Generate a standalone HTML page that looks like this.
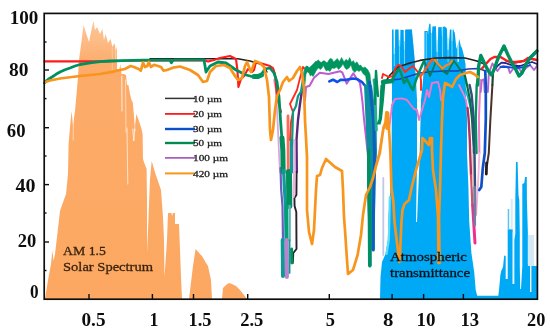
<!DOCTYPE html>
<html>
<head>
<meta charset="utf-8">
<title>Spectrum</title>
<style>
html,body{margin:0;padding:0;background:#fff;}
body{width:550px;height:336px;overflow:hidden;}
svg{display:block;}
.ax{font-family:"Liberation Serif",serif;font-weight:bold;font-size:19px;fill:#111;}
.lg{font-family:"Liberation Serif",serif;font-size:9.2px;fill:#222;}
.nt{font-family:"Liberation Serif",serif;font-size:13.5px;}
.ln{fill:none;stroke-linejoin:round;stroke-linecap:round;}
</style>
</head>
<body>
<svg width="550" height="336" viewBox="0 0 550 336">
<defs>
<filter id="b1" x="-5%" y="-5%" width="110%" height="110%"><feGaussianBlur stdDeviation="0.45"/></filter>
<filter id="b2" x="-5%" y="-5%" width="110%" height="110%"><feGaussianBlur stdDeviation="0.6"/></filter>
<linearGradient id="og" x1="0" y1="20" x2="0" y2="299" gradientUnits="userSpaceOnUse">
<stop offset="0" stop-color="#fdc597"/><stop offset="0.08" stop-color="#fdba84"/><stop offset="0.16" stop-color="#fcab68"/><stop offset="1" stop-color="#fca862"/>
</linearGradient>
</defs>
<rect x="0" y="0" width="550" height="336" fill="#fff"/>

<!-- SOLAR -->
<g id="solar" filter="url(#b1)">
<polygon fill="url(#og)" points="45,299 48,280 51,264 52.4,250.5 53.6,261 55,254 57,237 60,211 61,208 66,194 68,174 68.6,144 70,127 71.6,111 73,125 75,111 78,77 79,60 81,45 83.6,25 86,33 89,42 91,32 93.4,21 95,30 97,27 100,34 102.4,29 104,40 105.6,34 108,43 110.6,39 112.4,47 114.4,43 116,50 117,47 117,69 119.5,69 120.4,64 121.5,74 124,74 126,75 127,85 128.4,85 130,93.7 131.3,99.6 132.8,102.5 133.8,114 135,125 136.4,114 138.6,120 141.5,128.7 142.6,134 143,159 144.5,163.5 146.6,169 147,200 147,253 148,230 150,179 151.7,161 155.4,173.7 159,184 161,190 163,217 164,240 164.5,277 167,240 168,213 171.5,213 172,216 173,213 175,213 175,224 179,224 180,250 181,277 182,299"/>
<g stroke="#fff" fill="none" stroke-linecap="round">
<line x1="115.6" y1="48" x2="115.8" y2="62" stroke-width="0.7" opacity="0.6"/>
<line x1="112.3" y1="48" x2="112.3" y2="70" stroke-width="1" opacity="0.3"/>
<line x1="121.8" y1="76" x2="122" y2="111" stroke-width="1" opacity="0.8"/>
<line x1="125.5" y1="80" x2="126" y2="132" stroke-width="0.8" opacity="0.65"/>
<line x1="127" y1="128" x2="127.8" y2="184" stroke-width="0.9" opacity="0.75"/>
<polyline points="132.8,129 133.8,141 134.8,129" stroke-width="0.9" opacity="0.8"/>
<line x1="73.4" y1="113" x2="73.2" y2="140" stroke-width="0.7" opacity="0.7"/>
<line x1="134.6" y1="116" x2="134.8" y2="131" stroke-width="0.8" opacity="0.7"/>
</g>
<polygon fill="#fca862" points="189,299 193,266 195.6,249 200,254 202,256 206,263 208,266 211,280 212,299"/>
<polygon fill="#fca862" points="222,299 223,288 226,285 229,283 232,284 236,286 240,290 244,295 247,299"/>
</g>

<!-- ATMOSPHERE -->
<g id="atm" filter="url(#b1)">
<polygon fill="#06a9f5" points="380,299 380.5,277 382,262 385.5,254 387.8,240 388.5,215 390,197 391.5,160 392,90 392,29.6 393.6,29.6 393.8,54 394.9,54 395.1,29.6 398.6,29.6 398.9,46 400.1,46 400.4,29.8 403.7,30 404,50 405,50 405.2,29.6 411.8,29.6 413.3,45 414.3,56 416,80 417,100 417,160 416,222 417,222 419.5,160 421,100 423,80 424.4,60 424.4,31 427.8,31 428,35 428.4,30 429.3,23.5 430.5,24 431,33 432,33 432.4,26.6 436,26.2 436.7,52 437.7,52 438.2,27 439.7,27.3 441.7,27 442,37 442.7,37 443,26.8 444.8,26.6 447,28.7 447.6,50 448.6,50 449.9,29.5 451.4,29.5 451.7,41 452.4,41 452.7,29.5 453.5,29.5 455,34.6 456.4,49 459.3,39 460.8,46 462,48 464,56 465.5,64 466,80 465.5,90 467,119 467,153 468.4,187 469.2,221 471.4,253 474.2,272 475.7,290 477.2,295.8 478,299"/>
<polygon fill="#0393e6" opacity="0.6" points="405.4,30 411.8,29.6 413.3,45 414.3,56 415,66 405.4,66"/>
<g stroke="#7fdcf7" stroke-width="1" fill="none" opacity="0.85">
<line x1="394.3" y1="48" x2="394.3" y2="66"/><line x1="399.5" y1="40" x2="399.5" y2="64"/><line x1="404.5" y1="41" x2="404.5" y2="66"/>
<line x1="431.5" y1="33" x2="431.5" y2="60"/><line x1="437.2" y1="40" x2="437.2" y2="62"/><line x1="448.1" y1="38" x2="448.1" y2="62"/>
<line x1="442.5" y1="27" x2="442.5" y2="58"/><line x1="452" y1="30" x2="452" y2="58"/><line x1="426.3" y1="32" x2="426.3" y2="62"/>
</g>
<line x1="458" y1="40" x2="458.2" y2="62" stroke="#fff" stroke-width="1.3" opacity="0.85"/>
<g stroke="#0393e6" stroke-width="1.2" fill="none" opacity="0.55">
<line x1="397" y1="30" x2="397" y2="66"/><line x1="402" y1="30" x2="402" y2="66"/><line x1="434" y1="27" x2="434" y2="60"/><line x1="440" y1="28" x2="440" y2="60"/><line x1="445.5" y1="27" x2="445.5" y2="60"/><line x1="450.5" y1="30" x2="450.5" y2="60"/><line x1="454" y1="32" x2="454" y2="60"/>
</g>
<polygon fill="#06a9f5" points="476,295.8 498.3,295.8 499,290 500.4,275 501.2,271 503,267 504.2,255.5 505.7,256 505.7,279 507.7,279 507.7,229.3 512.7,229.3 512.7,284 514.2,284 514.2,240 515.3,234 515.3,200 516,162 517.6,162 518.5,195 519.3,200 519.8,234 519.8,266 520.2,289 521,289 522.3,266 522.3,184 524.3,183 525,177 526.8,177 526.9,200 527.9,234 527.9,264 530,264 530,292 531.4,292 531.4,266 537,266 537,299 476,299"/>
<rect x="507.7" y="209" width="1.5" height="21" fill="#5cc4f2"/>
<rect x="510.7" y="199" width="2" height="30.3" fill="#d4ecf8"/>
<polygon fill="#d3eaf6" points="527.9,235 534,235 534,266 527.9,266"/>
<rect x="512.7" y="232" width="1.5" height="52" fill="#e4f3fa"/>
</g>

<!-- LINES -->
<g id="lines" filter="url(#b1)">
<!-- black -->
<polyline class="ln" stroke="#222" stroke-width="1.4" points="150,58.8 204,58.7 238,58.8 250,61 262,64.5 265,68 267,72"/>
<polyline class="ln" stroke="#5a2a7a" stroke-width="2.4" points="296.8,172 296.5,140 298,120 300,104 302,90 304,80"/>
<polyline class="ln" stroke="#2a2030" stroke-width="1.9" points="296.6,172 296.4,195 294.4,198 294.6,206 296.3,212 296.5,249 293.3,253 292.8,263"/>
<polyline class="ln" stroke="#222" stroke-width="1.6" points="384,84 390,75 398,67 410,63 420,60.4 436,58 450,57.6 465,58 475,60.6 479,61.6 484,64 488,70"/>
<polyline class="ln" stroke="#1a4a30" stroke-width="2.2" points="492.9,74 492.4,85"/>
<polyline class="ln" stroke="#4a3028" stroke-width="2" points="492.4,85 490.4,119 488.8,153 487,165"/>
<polyline class="ln" stroke="#2a1a1a" stroke-width="2.8" stroke-linecap="butt" points="486.6,163 486.3,174"/>
<polyline class="ln" stroke="#222" stroke-width="1.5" points="506,61 514,63 520,62 528,59 533,54 537,50"/>
<!-- purple -->
<polyline class="ln" stroke="#dda6dc" stroke-width="1.8" points="274,80 276,90 278,130 279.2,157 280,172"/>
<polyline class="ln" stroke="#bd5cd0" stroke-width="2" points="305,100 306,87 309.6,85.8 314,77.8 319.8,72.7 328.5,74 340,71.2 342.4,72.7 346.7,83.6 349,80 353.3,73.4 356.2,77.8 360,83 361,90 362.5,102 364,119 367.7,153 369,172"/>
<polyline class="ln" stroke="#ea78cc" stroke-width="1.9" points="389,130 391,114 392,105 395,99 402,98.4 407,100 410,104 414,109 417,110 419,120 422,110 425,100 427,90 429,97 432,83 438,82 440,90 441,100"/>
<polyline class="ln" stroke="#f27cc6" stroke-width="2" points="480.6,80 480.3,85 478.9,119 479.4,153"/>
<polyline class="ln" stroke="#f4b4dc" stroke-width="1.8" points="479.4,153 477.9,187 476.2,215"/>
<polyline class="ln" stroke="#b36ad0" stroke-width="1.8" points="480.8,92 481.8,80.3 483.8,79.3 484.3,86 484.6,92"/>
<polyline class="ln" stroke="#b36ad0" stroke-width="2" points="487.8,92 488.8,74.2 490.4,69 492.4,63.5 494,66 497.4,71 500.5,67 503.5,66 508,67 510,73 513,69 516,65 520,70 522,73 526,68 530,65 534,70 537,66"/>
<!-- blue -->
<polyline class="ln" stroke="#0a50e8" stroke-width="2.6" points="329.3,81.4 333,79.7 337.3,82 341,79.7 345.3,80 349,79.3 353.3,78.5 357.7,79.3 362,82 366.4,87.3 368,92"/>
<polyline class="ln" stroke="#1a3fb0" stroke-width="1.6" points="384,83 392,80 400,79 420,73 430,71.7 445,71 457,71 468,69 478,68.5 483,70 485.3,71"/>
<polyline class="ln" stroke="#1050c8" stroke-width="2.7" points="485.3,71 485.8,88 485.8,119 484.8,153 482.8,168 481.3,187 479.2,190"/>
<polyline class="ln" stroke="#1a2a90" stroke-width="1.8" points="496,68 497.4,66 501.5,62.6 505.5,63 510,64.6 516,66 520,66 526,64 532,62 537,64"/>
<polyline class="ln" stroke="#0a50d8" stroke-width="1.8" points="500.5,67 506,67 512,67.5 518,68 524,67 530,65"/>
<polyline class="ln" stroke="#6a5fc0" stroke-width="2.2" points="280.5,168 281.2,190 282.5,206 283,240"/>
<!-- red -->
<polyline class="ln" stroke="#ff1a1a" stroke-width="2.1" points="44.5,61.4 105,61.4 125,60.7 204,60.2 208,61.5 214,60 220,58 230,56 236,59 237.4,70 238.4,87 241,79 244,76 248,69 252,72 254,70 256,62 260,63 270,66 273,68 275,74 277,97 281,112"/>
<polyline class="ln" stroke="#ff6a55" stroke-width="2.8" points="288,116 288.2,172"/>
<polyline class="ln" stroke="#f9a050" stroke-width="1.2" points="286.3,170 286.3,188"/>
<polyline class="ln" stroke="#ff2a1a" stroke-width="1.8" points="290,140 291,122 293,112 290,104 297,90 300,78 303,67 306,70 309,72 314,66 316,62"/>
<polyline class="ln" stroke="#ff2a1a" stroke-width="1.9" points="382,78 383,74 389,77 393,76 395,69 398,65 401,66 405,72 410,68 413,66 417,71 420,75 421,80 421,90"/>
<polyline class="ln" stroke="#ff1a1a" stroke-width="2.4" points="481.8,68.7 486.8,63 490.4,59 494.4,57 500.5,57 505.5,60 510,62 516,62 524,61 528,58 532,59 537,60"/>
<polyline class="ln" stroke="#f080d0" stroke-width="1.8" points="459,85 463,93 466,100 467.5,110"/>
<polyline class="ln" stroke="#b03060" stroke-width="2.4" points="467.5,108 468.6,119 469.8,140 470.2,153 471,175"/>
<polyline class="ln" stroke="#d05070" stroke-width="2.2" points="471,175 471.6,187 472.3,205"/>
<polyline class="ln" stroke="#f02f90" stroke-width="3" points="472.6,205 473.6,221 475,243"/>
<polyline class="ln" stroke="#f3b9a8" stroke-width="1.3" points="472.9,150 473,187"/>
<!-- green -->
<polyline class="ln" stroke="#04905e" stroke-width="2.8" points="44.5,83 46,81 48,79.5 52,77 56,74.3 60,72 65,69.8 70,68 75,66 80,64.5 90,62.8 100,61.6 110,61 122,60.6 143.7,60.2 170,60.1 171.4,62.8 173,60.3 175,59.8 204,59.8 206,72 210,66 218,62 226,63 236,70 246,75 254,77 261,75 265,69 270,68 274,73 277,82 279,97 280.5,120 282,140"/>
<polyline class="ln" stroke="#04955f" stroke-width="5" points="254,76.5 258,76.5 261.5,75"/>
<polyline class="ln" stroke="#04905e" stroke-width="5" stroke-linecap="butt" points="282,138 282.8,150 283.2,172"/>
<polyline class="ln" stroke="#0a9a98" stroke-width="3.2" stroke-linecap="butt" points="283.6,170 284.5,190 285.5,206 286,240"/>
<polyline class="ln" stroke="#04905e" stroke-width="6" stroke-linecap="butt" points="289,172 289.3,206"/>
<polyline class="ln" stroke="#04a070" stroke-width="3" stroke-linecap="butt" points="286.5,206 287,240"/>
<polyline class="ln" stroke="#58b4b4" stroke-width="2.4" stroke-linecap="butt" points="289.6,206 289.6,240"/>
<polyline class="ln" stroke="#0a9a98" stroke-width="4" stroke-linecap="butt" points="282.7,240 283,276"/>
<polyline class="ln" stroke="#c080d0" stroke-width="4" stroke-linecap="butt" points="286.7,240 286.9,277"/>
<polyline class="ln" stroke="#0a9a98" stroke-width="1.7" points="289.6,240 289.6,273"/>
<polyline class="ln" stroke="#04905e" stroke-width="3" stroke-linecap="butt" points="291.6,249 291.8,263"/>
<polyline class="ln" stroke="#0a9a98" stroke-width="3.4" stroke-linecap="butt" points="291.5,140 291.5,172"/>
<polyline class="ln" stroke="#f0b0e0" stroke-width="2.2" points="294.4,140 294.2,172 293.6,197"/>
<polyline class="ln" stroke="#0a9a80" stroke-width="2.2" points="292,145 293,112 296,106 298,96 302,90"/>
<polyline class="ln" stroke="#08a090" stroke-width="2.4" points="301,92 303,80 305,70 307,67"/>
<polygon fill="#04955f" stroke="#04955f" stroke-width="0.5" stroke-linejoin="round" points="306,66 309.6,67.5 314.7,62.5 318.3,60 321,62.5 324,60.5 327,63 330,58.5 332,59 333.6,62 337.3,58.5 339.5,61.5 341.6,57.5 344,62 346,59.3 348,61 349.7,57.5 351.6,62.3 353.3,60.5 355,63.5 357,61.8 359,65.5 360.6,65 363,68 365,66.9 367.9,69.8 370,74 371,85 371.5,97 367.5,97 367,88 365.7,76 362.8,73.4 361,70 359,71.5 357,70 354.8,72.5 352.5,70 351,65 349,68 346.7,69.5 345,68 343,64 341,67 338.7,69.5 336.5,67 334.4,68.5 332,68 330,71.5 328,70 326.3,71 325,69 323.4,65.5 322,68 320.5,69.5 318.5,68 316.9,69.5 315,73 313.2,76.5 311.5,75 310.3,76 309,73 308,71 306,74 304.5,90 302.5,90"/>
<polygon fill="#0a8fa0" points="364,85 372,85 376.5,119 377,153 375.3,187 375,221 374.7,250 371.7,250 371.7,266 368,266 367.7,221 367,187 367,153 365.5,119"/>
<polyline class="ln" stroke="#1060c0" stroke-width="3" stroke-linecap="butt" points="369.5,82 371,97 373.5,119 374.5,153 374,187 373.3,221 373.3,250"/>
<polyline class="ln" stroke="#04905e" stroke-width="3.2" stroke-linecap="butt" points="368.6,150 369,187 369.7,221 369.8,266"/>
<polyline class="ln" stroke="#20b090" stroke-width="3" stroke-linecap="butt" points="374,80 374.7,85 375.8,119 376.3,130"/>
<polyline class="ln" stroke="#04905e" stroke-width="2.4" points="375,104 375.5,85 376,71 377,85 378,96"/>
<polygon fill="#04905e" points="380.5,85 385.4,83 384,100 382,119 380.5,124.5 376.5,124.5 378.6,119 379.6,100"/>
<polyline class="ln" stroke="#c8b4e4" stroke-width="1.5" points="383.3,126 381,140 378.8,153 377,162"/>
<polyline class="ln" stroke="#c0c8e8" stroke-width="1.8" points="383.3,178 383.3,255"/>
<polyline class="ln" stroke="#5fdcfb" stroke-width="2.2" points="389.8,197 389.2,225 388.8,240 386.5,254"/>
<polyline class="ln" stroke="#04905e" stroke-width="4.5" points="383,82 392,81"/>
<polyline class="ln" stroke="#04905e" stroke-width="2.6" points="381,100 383,81 392,80 396,73 399,69 401,73 404,83 407,79 411,87 413,90 416,80 420,70 424,61"/>
<polyline class="ln" stroke="#0a7a48" stroke-width="1.7" points="424,61 427,68 430,76 433,69 436,61 439,66 443,71 447,74 451,66 454,61 459,68 462,72 465,76"/>
<polyline class="ln" stroke="#10b0c0" stroke-width="1.6" points="464,85 468,98 471,110 473,119"/>
<polyline class="ln" stroke="#06704a" stroke-width="2.2" points="465,76 467,85 470,100 472,119 474,153"/>
<polyline class="ln" stroke="#305080" stroke-width="2.4" points="469.6,85 471.7,95 473.7,119 474.5,153 475,187 475,215"/>
<polyline class="ln" stroke="#7080a0" stroke-width="2.6" points="474.6,187 474.8,225"/>
<polyline class="ln" stroke="#04905e" stroke-width="2.4" points="476.5,153 475.7,119 476.7,85 477.7,80"/>
<polyline class="ln" stroke="#04905e" stroke-width="3.4" points="477.7,85 478.7,66 480.8,55.5 484.3,63 488.3,71 491.4,75 493.9,70 497.4,60 500,54 504,46 508,55 512,63 516,70 519,76 522,73 526,64 530,58 534,54 537,51"/>
<!-- orange -->
<polyline class="ln" stroke="#f8951d" stroke-width="2.7" points="45.5,82 50,80.5 60,78.5 80,76 100,74 114.6,71.3 124.8,69 130.6,66 134,67 138.6,69 140.8,70.6 143,62.6 145,67 147.4,66 148.8,62 151,67 154,64.8 158,66 161,67 163.4,70.6 167,70 173,67.7 180,66.5 190,70 198,75 203,82 207,81 210,72 216,66 224,65 230,68 235,76 238,80 242,78 245,66 247,62 249,67 251,72 255,61 260,63 264,67 267,80 269,97 270,130 271,140 273,130 275,110 277,96 280,90 283,82 287,77 289,81 293,78 297,71 300,67 302,73 304,88 305,120 307,157 307,210 309,232 312,244 314,230 315,210 316,190 317,176 320,175 322,168 326,159 335,167 342,171 343,190 344,217 345,230 347,260 348,274 353,270 357.6,255 361,235 363,215 366,195 370,187 373,178 376,166 379.8,153 383.3,129 385.5,122 386.4,112.5 388,113 388.6,124 389,129 390.4,153 391.4,187 393.4,202 394.4,221 398.5,255 399.5,262 400,255 401.5,221 402.5,210 404.5,204 409,200 412,186 416,170 419,160 422,150 422.4,138 429,145 430,138 432,138 432,150 433,170 436,190 438,217 438.5,263 439.5,263 439,217 440,190 441,150 442,120 443,97 445,83 449,85 452,87 456,79 460,75 466,73 470,72 474,74 478,77"/>
<polyline class="ln" stroke="#f8951d" stroke-width="4" stroke-linecap="butt" points="387,113 387.2,128"/>
<polyline class="ln" stroke="#ff5a14" stroke-width="2.2" points="421,76 425,70 429,64 432,59.6 435,60"/>
<polyline class="ln" stroke="#f8891d" stroke-width="2.2" points="435,60 437.7,63.6 442.3,68.7 445.3,66 449.8,63.6 452,61"/>
</g>

<!-- LEGEND -->
<g id="legend" filter="url(#b1)">
<line x1="165" y1="98.4" x2="195" y2="98.4" stroke="#333" stroke-width="1.5"/>
<line x1="165" y1="113.9" x2="195" y2="113.9" stroke="#ff1a1a" stroke-width="1.8"/>
<line x1="165" y1="129" x2="195" y2="129" stroke="#0a50c8" stroke-width="2.4"/>
<line x1="165" y1="143" x2="195" y2="143" stroke="#048a50" stroke-width="2.4"/>
<line x1="165" y1="157.9" x2="195" y2="157.9" stroke="#a050b8" stroke-width="1.6"/>
<line x1="165" y1="173.4" x2="195" y2="173.4" stroke="#f8951d" stroke-width="2"/>
<g class="lg" stroke="#222" stroke-width="0.3">
<text x="193" y="101.5" textLength="29" lengthAdjust="spacingAndGlyphs">10 µm</text>
<text x="193" y="117" textLength="29" lengthAdjust="spacingAndGlyphs">20 µm</text>
<text x="193" y="132.1" textLength="29" lengthAdjust="spacingAndGlyphs">30 µm</text>
<text x="193" y="146.1" textLength="29" lengthAdjust="spacingAndGlyphs">50 µm</text>
<text x="193" y="161" textLength="35" lengthAdjust="spacingAndGlyphs">100 µm</text>
<text x="193" y="176.5" textLength="35" lengthAdjust="spacingAndGlyphs">420 µm</text>
</g>
</g>

<!-- NOTES -->
<g filter="url(#b1)">
<text class="nt" x="63" y="255" fill="#3b2410" stroke="#3b2410" stroke-width="0.3" textLength="43" lengthAdjust="spacingAndGlyphs">AM 1.5</text>
<text class="nt" x="63" y="270.6" fill="#3b2410" stroke="#3b2410" stroke-width="0.3" textLength="90" lengthAdjust="spacingAndGlyphs">Solar Spectrum</text>
<text class="nt" x="390" y="261" fill="#0a1216" stroke="#0a1216" stroke-width="0.3" textLength="77" lengthAdjust="spacingAndGlyphs">Atmospheric</text>
<text class="nt" x="390" y="277" fill="#0a1216" stroke="#0a1216" stroke-width="0.3" textLength="80" lengthAdjust="spacingAndGlyphs">transmittance</text>
</g>

<!-- FRAME -->
<g id="frame" filter="url(#b1)">
<rect x="44.2" y="13.4" width="493.2" height="285.8" fill="none" stroke="#111" stroke-width="1.7"/>
<g stroke="#111" stroke-width="1.4">
<line x1="44" y1="42" x2="46.5" y2="42"/><line x1="44" y1="70" x2="49" y2="70"/><line x1="44" y1="98.6" x2="46.5" y2="98.6"/>
<line x1="44" y1="127.7" x2="49" y2="127.7"/><line x1="44" y1="156" x2="46.5" y2="156"/><line x1="44" y1="184.6" x2="49" y2="184.6"/>
<line x1="44" y1="213" x2="46.5" y2="213"/><line x1="44" y1="242" x2="49" y2="242"/><line x1="44" y1="270.5" x2="46.5" y2="270.5"/>
<line x1="89" y1="299" x2="89" y2="294"/><line x1="152.4" y1="299" x2="152.4" y2="294"/><line x1="193.5" y1="299" x2="193.5" y2="294"/>
<line x1="247.7" y1="299" x2="247.7" y2="294"/><line x1="329.3" y1="299" x2="329.3" y2="294"/><line x1="392.1" y1="299" x2="392.1" y2="294"/>
<line x1="423.6" y1="299" x2="423.6" y2="294"/><line x1="463.4" y1="299" x2="463.4" y2="294"/>
</g>
</g>

<!-- AXIS LABELS -->
<g filter="url(#b1)">
<text class="ax" x="9.7" y="24.4" textLength="28.6" lengthAdjust="spacingAndGlyphs">100</text>
<text class="ax" x="9.1" y="76.4" textLength="19.4" lengthAdjust="spacingAndGlyphs">80</text>
<text class="ax" x="6.8" y="137.4" textLength="18.7" lengthAdjust="spacingAndGlyphs">60</text>
<text class="ax" x="15.5" y="192.3" textLength="20" lengthAdjust="spacingAndGlyphs">40</text>
<text class="ax" x="17.7" y="247.3" textLength="18.5" lengthAdjust="spacingAndGlyphs">20</text>
<text class="ax" x="29.9" y="298" textLength="8.6" lengthAdjust="spacingAndGlyphs">0</text>
<text class="ax" x="81.5" y="325.9" textLength="24" lengthAdjust="spacingAndGlyphs">0.5</text>
<text class="ax" x="149.4" y="325.9" textLength="9" lengthAdjust="spacingAndGlyphs">1</text>
<text class="ax" x="188.5" y="325.9" textLength="23" lengthAdjust="spacingAndGlyphs">1.5</text>
<text class="ax" x="240.2" y="325.9" textLength="23.2" lengthAdjust="spacingAndGlyphs">2.5</text>
<text class="ax" x="325.7" y="325.9" textLength="9.2" lengthAdjust="spacingAndGlyphs">5</text>
<text class="ax" x="383" y="325.9" textLength="10.4" lengthAdjust="spacingAndGlyphs">8</text>
<text class="ax" x="416.6" y="325.9" textLength="19" lengthAdjust="spacingAndGlyphs">10</text>
<text class="ax" x="460.5" y="325.9" textLength="18.7" lengthAdjust="spacingAndGlyphs">13</text>
<text class="ax" x="527.1" y="325.9" textLength="18.3" lengthAdjust="spacingAndGlyphs">20</text>
</g>
</svg>
</body>
</html>
